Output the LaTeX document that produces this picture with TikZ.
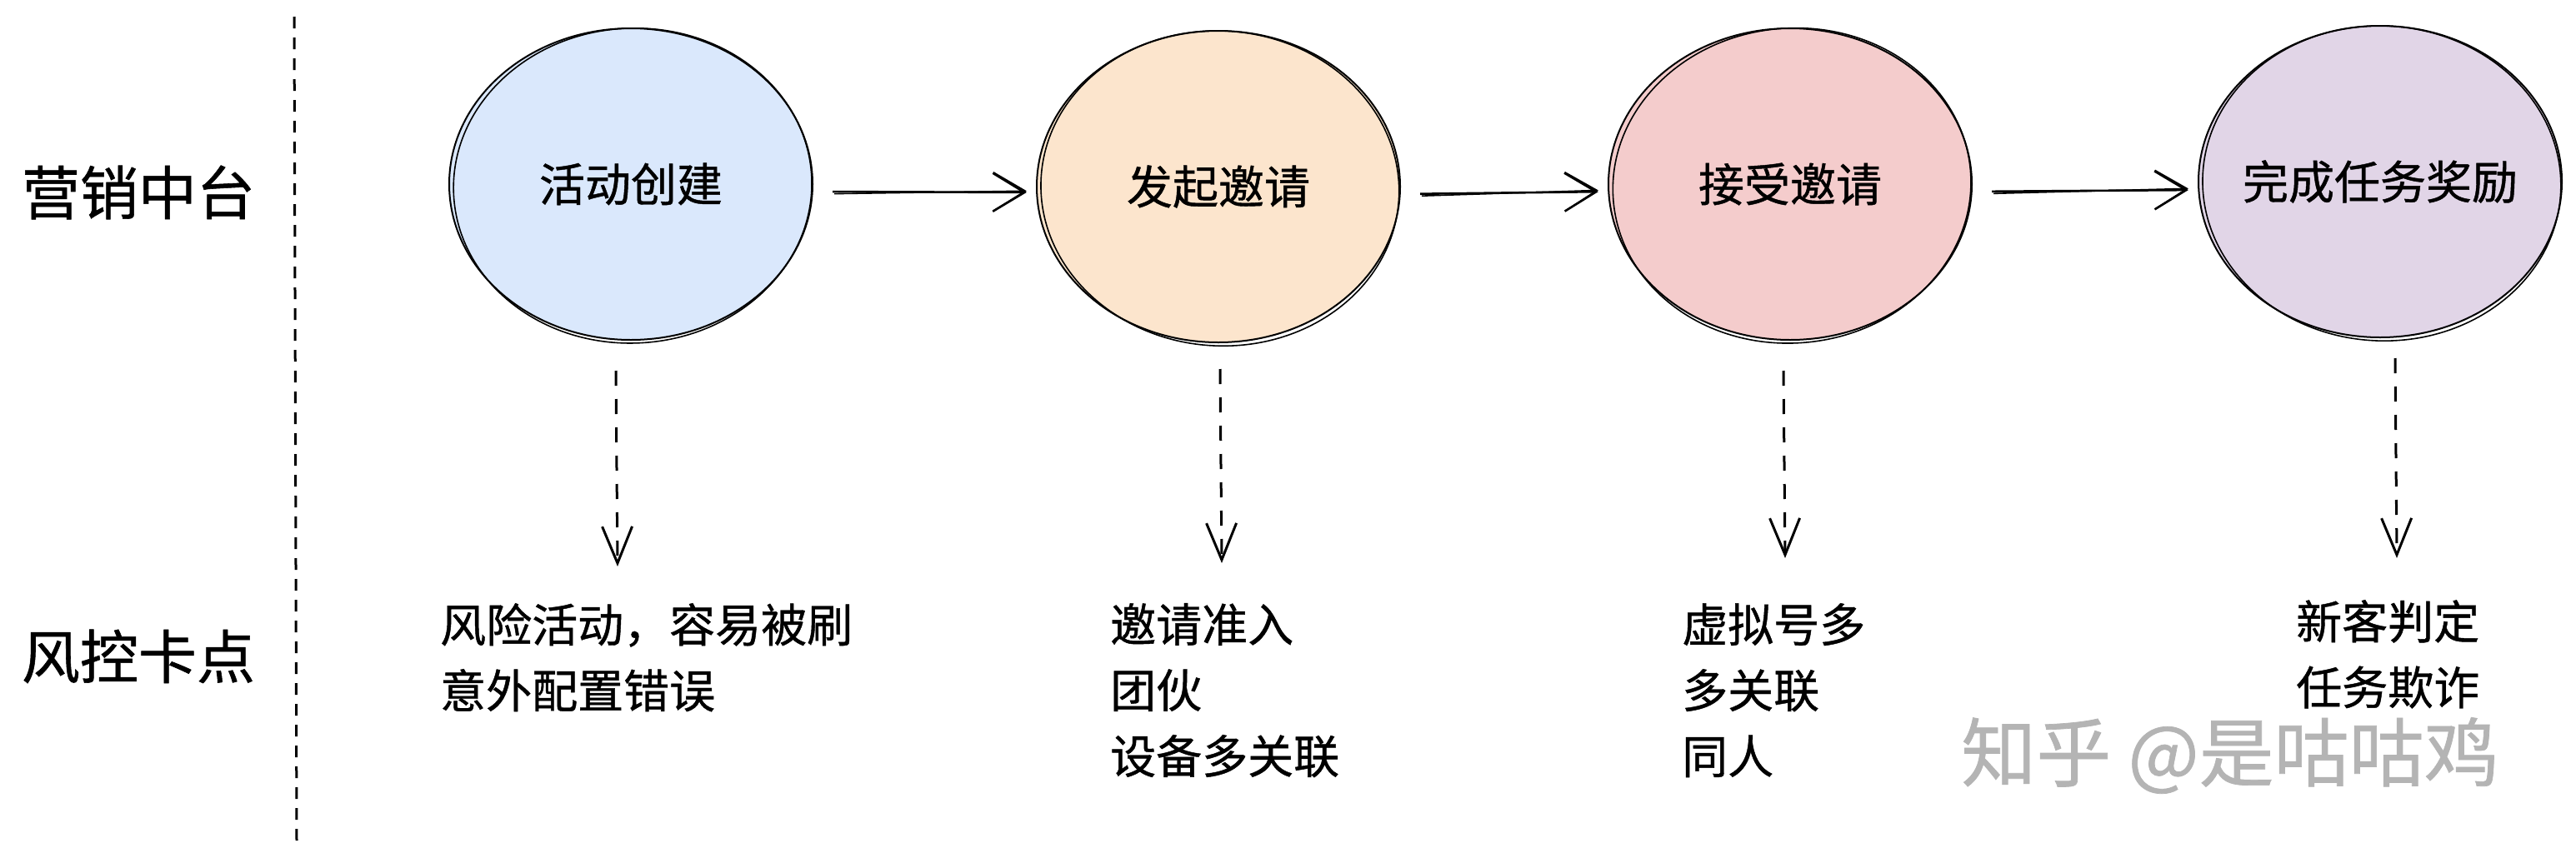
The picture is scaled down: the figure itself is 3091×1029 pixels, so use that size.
\documentclass[tikz,border=0pt]{standalone}
\usepackage{fontspec}
\setmainfont[FakeBold=0.8]{Noto Sans CJK SC}
\usetikzlibrary{arrows.meta,shapes.geometric}
\definecolor{cblue}{HTML}{DAE8FC}
\definecolor{cpeach}{HTML}{FCE5CD}
\definecolor{cpink}{HTML}{F4CCCC}
\definecolor{clav}{HTML}{E1D5E7}
\definecolor{wmgray}{HTML}{B4B4B4}
\newcommand{\stagetext}[1]{\makebox[0pt][c]{\raisebox{-5pt}{#1}}}
\tikzset{
  stage/.style={ellipse, draw=none, minimum width=436pt, minimum height=374pt, inner sep=0pt,
    font=\fontsize{55}{60}\selectfont},
  outline/.style={draw=black, line width=2pt},
  lane/.style={font=\fontsize{70}{80}\selectfont, inner sep=0pt},
  risk/.style={font=\fontsize{55}{79}\selectfont, align=left, anchor=north west, inner sep=0pt},
  flow/.style={draw=black, line width=2.6pt, -{Straight Barb[length=38pt,width=46pt]}},
  riskarrow/.style={draw=black, line width=3pt, dash pattern=on 18pt off 16pt,
    -{Straight Barb[length=44pt,width=36pt]}},
  divider/.style={draw=black, line width=3pt, dash pattern=on 14pt off 11pt},
  wmark/.style={font=\fontsize{90}{96}\selectfont, text=wmgray, inner sep=0pt}
}
\begin{document}
\begin{tikzpicture}[x=1pt,y=-1pt]
\useasboundingbox[fill=white] (0,0) rectangle (3091,1029);

% divider
\coordinate (vtop) at (353,20);
\coordinate (vbot) at (356,1009);
\draw[divider] (vtop) -- (vbot);

% lane labels
\node[lane] (l1) at (166,231) {营销中台};
\node[lane] (l2) at (166,788) {风控卡点};

% stages
\node[stage, fill=cblue]  (c1) at (757,221)  {\stagetext{活动创建}};
\node[stage, fill=cpeach] (c2) at (1462,224) {\stagetext{发起邀请}};
\node[stage, fill=cpink]  (c3) at (2148,221) {\stagetext{接受邀请}};
\node[stage, fill=clav]   (c4) at (2856,218) {\stagetext{完成任务奖励}};

% sketchy outlines
\foreach \c/\a in {c1/3, c2/-4, c3/5, c4/-3}{
  \draw[outline] (\c.center) ellipse [x radius=218, y radius=187];
  \draw[outline, line width=1.6pt, rotate around={\a:(\c.center)}] ([xshift=2pt,yshift=-2pt]\c.center) ellipse [x radius=215, y radius=189];
}

% horizontal connectors
\draw[flow, shorten <=24pt, shorten >=12pt] ([yshift=-9pt]c1.east) -- ([yshift=-7pt]c2.west);
\draw[flow, line width=1.6pt, shorten <=26pt, shorten >=12pt] ([yshift=-12pt]c1.east) -- ([yshift=-5pt]c2.west);
\draw[flow, shorten <=24pt, shorten >=12pt] ([yshift=-9pt]c2.east) -- ([yshift=-9pt]c3.west);
\draw[flow, line width=1.6pt, shorten <=26pt, shorten >=12pt] ([yshift=-12pt]c2.east) -- ([yshift=-7pt]c3.west);
\draw[flow, shorten <=24pt, shorten >=12pt] ([yshift=-9pt]c3.east) -- ([yshift=-10pt]c4.west);
\draw[flow, line width=1.6pt, shorten <=26pt, shorten >=12pt] ([yshift=-12pt]c3.east) -- ([yshift=-8pt]c4.west);

% risk texts
\node[risk] (t1) at (528,724) {风险活动，容易被刷\\意外配置错误};
\node[risk] (t2) at (1332,724) {邀请准入\\团伙\\设备多关联};
\node[risk] (t3) at (2018,724) {虚拟号多\\多关联\\同人};
\node[risk] (t4) at (2755,720) {新客判定\\任务欺诈};

% down connectors
\coordinate (d1s) at (739,445);  \coordinate (d1e) at (741,680);
\coordinate (d2s) at (1464,443); \coordinate (d2e) at (1466,676);
\coordinate (d3s) at (2140,445); \coordinate (d3e) at (2142,670);
\coordinate (d4s) at (2874,430); \coordinate (d4e) at (2876,670);
\draw[riskarrow] (d1s) -- (d1e);
\draw[riskarrow] (d2s) -- (d2e);
\draw[riskarrow] (d3s) -- (d3e);
\draw[riskarrow] (d4s) -- (d4e);

% watermark
\node[wmark] (wm) at (2676,907) {知乎 @是咕咕鸡};
\end{tikzpicture}
\end{document}
